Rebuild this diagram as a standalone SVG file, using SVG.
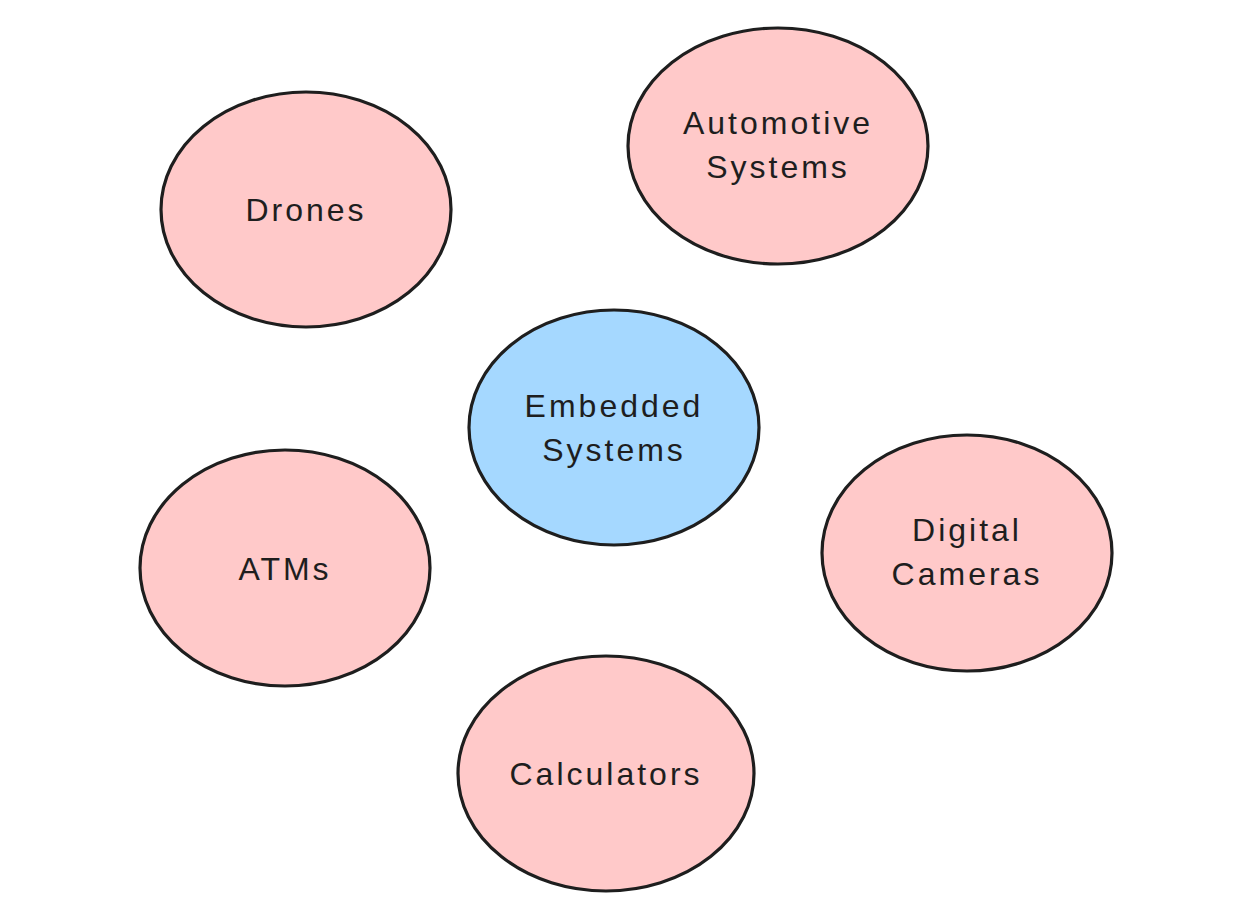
<svg xmlns="http://www.w3.org/2000/svg" width="1254" height="908" viewBox="0 0 1254 908">
<style>
.n{stroke:#1e1e1e;stroke-width:3.2}
.pink{fill:#ffc9c9}
.blue{fill:#a5d8ff}
text{font-family:"Liberation Sans",Arial,sans-serif;font-size:32px;fill:#1e1e1e;text-anchor:middle;letter-spacing:3px}
</style>
<rect width="1254" height="908" fill="#ffffff"/>
<g id="connectors"></g>
<g id="embedded">
<ellipse class="n blue" cx="614" cy="427.5" rx="145" ry="117.5"/>
<text x="614" y="417">Embedded</text>
<text x="614" y="461">Systems</text>
</g>
<g id="drones">
<ellipse class="n pink" cx="306" cy="209.5" rx="145" ry="117.5"/>
<text x="306" y="221">Drones</text>
</g>
<g id="automotive">
<ellipse class="n pink" cx="778" cy="146" rx="150" ry="118"/>
<text x="778" y="134">Automotive</text>
<text x="778" y="178">Systems</text>
</g>
<g id="atms">
<ellipse class="n pink" cx="285" cy="568" rx="145" ry="118"/>
<text x="285" y="580">ATMs</text>
</g>
<g id="cameras">
<ellipse class="n pink" cx="967" cy="553" rx="145" ry="118"/>
<text x="967" y="541">Digital</text>
<text x="967" y="585">Cameras</text>
</g>
<g id="calculators">
<ellipse class="n pink" cx="606" cy="773.5" rx="148" ry="117.5"/>
<text x="606" y="785">Calculators</text>
</g>
</svg>
